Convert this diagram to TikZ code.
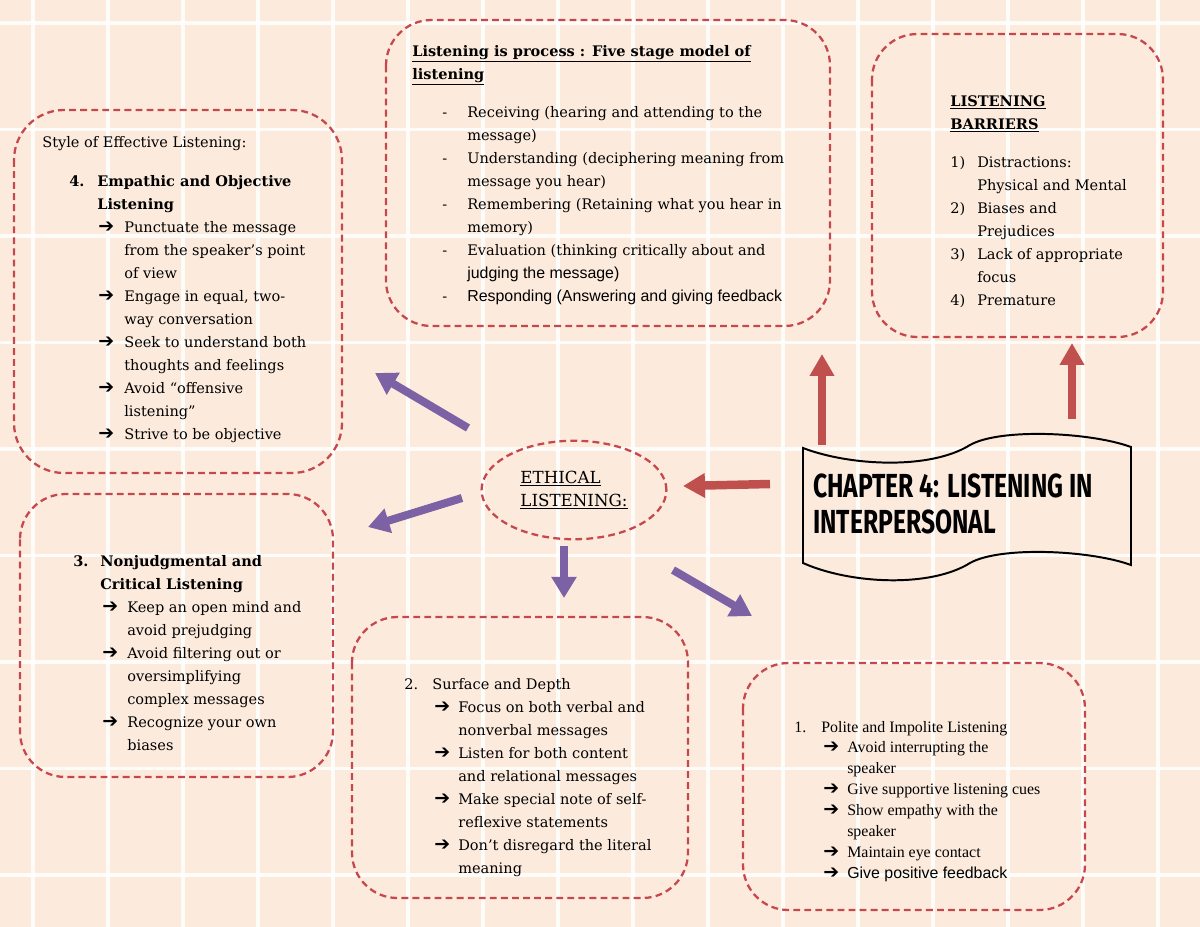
\documentclass[tikz,border=0pt]{standalone}
\usepackage{fontspec}
\setmainfont{DejaVu Serif}
\newfontfamily\symfont{DejaVu Sans}
\newfontfamily\arialfont{Liberation Sans}
\newfontfamily\timesfont{Liberation Serif}
\newfontfamily\bannerfont[FakeStretch=0.74]{Fira Sans}
\usetikzlibrary{arrows.meta}
\usetikzlibrary{shapes.geometric}

\definecolor{paper}{RGB}{252,235,221}
\definecolor{dashred}{RGB}{199,72,76}
\definecolor{arrowred}{RGB}{192,80,77}
\definecolor{arrowpurple}{RGB}{124,98,164}

\newlength\px
\setlength\px{0.66pt}
\newcommand{\arr}{{\symfont\bfseries\fontsize{12.5}{12}\selectfont\symbol{"2794}}}
\newcommand{\Ln}[2]{\hspace*{#1\px}#2\par}
\newcommand{\Lab}[3]{\makebox[#2\px][l]{\hspace*{#1\px}#3}}
\newcommand{\sanstext}[1]{{\arialfont\fontsize{10.5}{15.2}\selectfont #1}}

\begin{document}
\begin{tikzpicture}[x=0.66pt, y=-0.66pt,
  dashbox/.style={draw=dashred, line width=1.5pt, dash pattern=on 4.5pt off 2.8pt, rounded corners=30pt},
  txt/.style={anchor=base west, inner sep=0pt, font=\fontsize{9.6}{15.2}\selectfont},
  purplearrow/.style={draw=arrowpurple, line width=5.3pt, -{Triangle[width=16pt,length=14pt]}},
  redarrow/.style={draw=arrowred, line width=5.6pt, -{Triangle[width=15.5pt,length=14.5pt]}},
  gridline/.style={white, opacity=0.85, line width=2.2pt}]
\useasboundingbox (0,0) rectangle (1200,927);
\fill[paper] (0,0) rectangle (1200,927);
% grid
\foreach \x in {0,...,15} {
 \draw[gridline] ({33+75*\x},0) --++(0,927);
}
\foreach \y in {0,...,8} {
 \draw[gridline] (0,{23+106.5*\y}) --++(1200,0);
}

% dashed boxes
\draw[dashbox] (386,20) rectangle (830,326);
\draw[dashbox] (872,34) rectangle (1163,337);
\draw[dashbox, rounded corners=33pt] (14,110) rectangle (342,473);
\draw[dashbox] (20,494) rectangle (333,777);
\draw[dashbox] (352,617) rectangle (688,898);
\draw[dashbox] (743,663) rectangle (1085,910);

% five stage model
\node[txt] (stage) at (412,56) {\parbox[t]{420\px}{\raggedright
\underline{\textbf{Listening is process : Five stage model of}}\par
\underline{\textbf{listening}}\par\vspace{15\px}
\Lab{30}{55}{-}Receiving (hearing and attending to the\par
\Ln{55}{message)}
\Lab{30}{55}{-}Understanding (deciphering meaning from\par
\Ln{55}{message you hear)}
\Lab{30}{55}{-}Remembering (Retaining what you hear in\par
\Ln{55}{memory)}
\Lab{30}{55}{-}Evaluation (thinking critically about and\par
\Ln{55}{\sanstext{judging the message)}}
\Lab{30}{55}{-}\sanstext{Responding (Answering and giving feedback}\par}};

% barriers
\node[txt] (barr) at (950,106) {\parbox[t]{210\px}{\raggedright
\underline{\textbf{LISTENING}}\par
\underline{\textbf{BARRIERS}}\par\vspace{15\px}
\Lab{0}{27}{1)}Distractions:\par
\Ln{27}{Physical and Mental}
\Lab{0}{27}{2)}Biases and\par
\Ln{27}{Prejudices}
\Lab{0}{27}{3)}Lack of appropriate\par
\Ln{27}{focus}
\Lab{0}{27}{4)}Premature\par}};

% empathic
\node[txt] (eff) at (42,147) {\parbox[t]{300\px}{\raggedright
Style of Effective Listening:\par\vspace{16\px}
\Lab{27}{55}{\textbf{4.}}\textbf{Empathic and Objective}\par
\Ln{55}{\textbf{Listening}}
\Lab{56}{82}{\arr}Punctuate the message\par
\Ln{82}{from the speaker’s point}
\Ln{82}{of view}
\Lab{56}{82}{\arr}Engage in equal, two-\par
\Ln{82}{way conversation}
\Lab{56}{82}{\arr}Seek to understand both\par
\Ln{82}{thoughts and feelings}
\Lab{56}{82}{\arr}Avoid “offensive\par
\Ln{82}{listening”}
\Lab{56}{82}{\arr}Strive to be objective\par}};

% nonjudgmental
\node[txt] (crit) at (73,566) {\parbox[t]{260\px}{\raggedright
\Lab{0}{27}{\textbf{3.}}\textbf{Nonjudgmental and}\par
\Ln{27}{\textbf{Critical Listening}}
\Lab{29}{54}{\arr}Keep an open mind and\par
\Ln{54}{avoid prejudging}
\Lab{29}{54}{\arr}Avoid filtering out or\par
\Ln{54}{oversimplifying}
\Ln{54}{complex messages}
\Lab{29}{54}{\arr}Recognize your own\par
\Ln{54}{biases}}};

% surface and depth
\node[txt] (depth) at (404,689) {\parbox[t]{280\px}{\raggedright
\Lab{0}{28}{2.}Surface and Depth\par
\Lab{30}{54}{\arr}Focus on both verbal and\par
\Ln{54}{nonverbal messages}
\Lab{30}{54}{\arr}Listen for both content\par
\Ln{54}{and relational messages}
\Lab{30}{54}{\arr}Make special note of self-\par
\Ln{54}{reflexive statements}
\Lab{30}{54}{\arr}Don’t disregard the literal\par
\Ln{54}{meaning}}};

% polite
\node[txt, font=\timesfont\fontsize{10.5}{13.8}\selectfont] (polite) at (794,732) {\parbox[t]{285\px}{\raggedright
\Lab{0}{27}{1.}Polite and Impolite Listening\par
\Lab{29}{53}{\arr}Avoid interrupting the\par
\Ln{53}{speaker}
\Lab{29}{53}{\arr}Give supportive listening cues\par
\Lab{29}{53}{\arr}Show empathy with the\par
\Ln{53}{speaker}
\Lab{29}{53}{\arr}Maintain eye contact\par
\Lab{29}{53}{\arr}{\arialfont\fontsize{10.5}{13.8}\selectfont Give positive feedback}\par}};

% ethical listening
\node[ellipse, draw=dashred, line width=1.5pt, dash pattern=on 4.5pt off 2.8pt,
  minimum width=122pt, minimum height=65pt, inner sep=0pt, align=left,
  font=\fontsize{11}{15.2}\selectfont] (eth) at (574,490)
  {\underline{ETHICAL}\\\underline{LISTENING:}};

% chapter banner
\draw[black, line width=1.3pt] (803,448) .. controls (850,466) and (930,470) .. (970,445)
  .. controls (1000,428) and (1090,432) .. (1131,447) -- (1131,565)
  .. controls (1090,550) and (1000,546) .. (970,563)
  .. controls (930,588) and (850,584) .. (803,563) -- cycle;
\node[txt, font=\bannerfont\bfseries\fontsize{22}{23.8}\selectfont] (title) at (813,497)
  {\parbox[t]{320\px}{CHAPTER 4: LISTENING IN\par INTERPERSONAL}};

% arrows
\coordinate (pa1) at (468,428); \coordinate (pb1) at (375,373);
\coordinate (pa2) at (462,498); \coordinate (pb2) at (368,527);
\coordinate (pa3) at (564,546); \coordinate (pb3) at (564,598);
\coordinate (pa4) at (673,570); \coordinate (pb4) at (752,616);
\coordinate (ra1) at (770,484); \coordinate (rb1) at (683,486);
\coordinate (ra2) at (822,445); \coordinate (rb2) at (822,354);
\coordinate (ra3) at (1072,419); \coordinate (rb3) at (1072,343);
\foreach \i in {1,...,4} {
 \draw[purplearrow] (pa\i) -- (pb\i);
}
\foreach \i in {1,...,3} {
 \draw[redarrow] (ra\i) -- (rb\i);
}
\end{tikzpicture}
\end{document}
